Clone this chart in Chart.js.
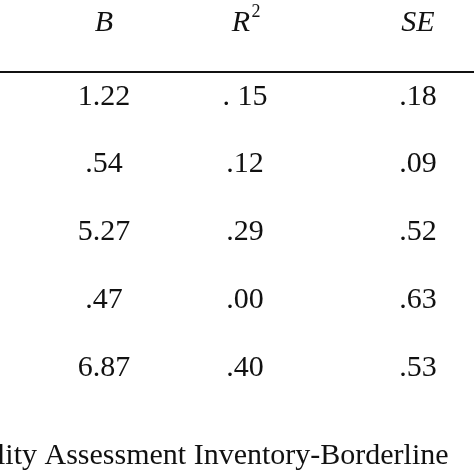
<!DOCTYPE html>
<html><head><meta charset="utf-8">
<script src="https://cdn.jsdelivr.net/npm/chart.js@4"></script>
<style>html,body{margin:0;padding:0;background:#fff}#w{width:474px;height:474px}</style>
</head><body><div id="w"><canvas id="c"></canvas></div>
<script>
const columns = ['B', 'R2', 'SE'];
const bValues = ['1.22', '.54', '5.27', '.47', '6.87'];
const r2Values = ['. 15', '.12', '.29', '.00', '.40'];
const seValues = ['.18', '.09', '.52', '.63', '.53'];
const footerText = 'lity Assessment Inventory-Borderline';

const colX = [104, 245, 418];
const rowY = [97, 164, 232, 300, 368];
const cols = [bValues, r2Values, seValues];
const datasets = cols.map((vals, ci) => ({
  label: columns[ci],
  data: vals.map((v, ri) => ({x: colX[ci], y: rowY[ri], t: v})),
  pointRadius: 0
}));

const tablePlugin = {
  id: 'table',
  afterDraw(chart) {
    const ctx = chart.ctx, xs = chart.scales.x, ys = chart.scales.y;
    ctx.save();
    ctx.fillStyle = '#111';
    ctx.textAlign = 'center';
    ctx.textBaseline = 'middle';
    ctx.font = 'italic 30px "Liberation Serif"';
    const hy = ys.getPixelForValue(23);
    ctx.fillText('B', xs.getPixelForValue(colX[0]), hy);
    ctx.fillText('SE', xs.getPixelForValue(colX[2]), hy);
    const rx = xs.getPixelForValue(colX[1]);
    ctx.fillText('R', rx - 4, hy);
    ctx.font = '18px "Liberation Serif"';
    ctx.fillText('2', rx + 11, hy - 11);
    ctx.fillRect(xs.getPixelForValue(0), ys.getPixelForValue(72) - 1, xs.getPixelForValue(474), 2);
    ctx.font = '30px "Liberation Serif"';
    chart.data.datasets.forEach((ds, di) => {
      const meta = chart.getDatasetMeta(di);
      meta.data.forEach((pt, i) => ctx.fillText(ds.data[i].t, pt.x, pt.y));
    });
    ctx.textAlign = 'left';
    ctx.font = '30px "Liberation Serif"';
    ctx.fillText(footerText, xs.getPixelForValue(-3), ys.getPixelForValue(456));
    ctx.restore();
  }
};

new Chart(document.getElementById('c'), {
  type: 'scatter',
  data: {datasets},
  options: {
    responsive: true, maintainAspectRatio: false, animation: false,
    layout: {padding: 0},
    plugins: {legend: {display: false}, tooltip: {enabled: false}},
    scales: {
      x: {type: 'linear', min: 0, max: 474, display: false},
      y: {type: 'linear', min: 0, max: 474, reverse: true, display: false}
    }
  },
  plugins: [tablePlugin]
});
</script></body></html>
